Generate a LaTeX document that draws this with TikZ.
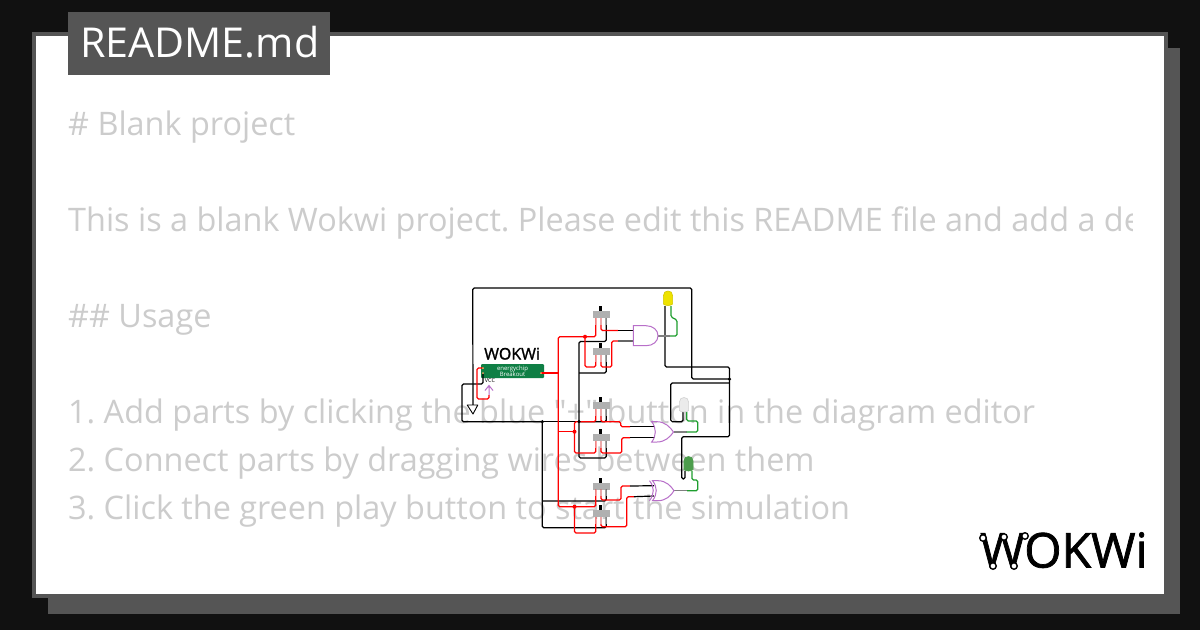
\documentclass[tikz,border=0pt]{standalone}
\usepackage{fontspec}
\setmainfont{Open Sans}
\newfontfamily\plainfont{Open Sans}
\newfontfamily\logofont[FakeBold=1.5]{Open Sans}
\usetikzlibrary{calc}
\definecolor{bgdark}{HTML}{111111}
\definecolor{panelgrey}{HTML}{555555}
\definecolor{bodytext}{HTML}{CCCCCC}
\definecolor{gatepurple}{HTML}{B86FC9}
\definecolor{chipgreen}{HTML}{0F7F45}
\definecolor{wiregreen}{HTML}{1E9E2E}
\definecolor{switchgrey}{HTML}{B0B0B0}
\tikzset{
  mdline/.style={anchor=base west,text=bodytext,font=\plainfont\frenchspacing\fontsize{32.4}{32}\selectfont,inner sep=0pt},
  blackwire/.style={draw=black,line width=1.2pt,rounded corners=1.5pt},
  redwire/.style={draw=red,line width=1.2pt,rounded corners=1.5pt},
  greenwire/.style={draw=wiregreen,line width=1.2pt,rounded corners=1.5pt},
  stub/.style={draw=gray,line width=1.2pt},
  pinstub/.style={draw=white!75!gray,line width=1.2pt,opacity=.6},
  gateline/.style={draw=gatepurple,line width=1pt},
  jdot/.style={circle,fill=black,inner sep=0pt,minimum size=3.5pt},
  rdot/.style={circle,fill=red,inner sep=0pt,minimum size=4pt},
  logotext/.style={anchor=base west,inner sep=0pt,text=black},
  logoring/.style={draw=black,fill=white,line width=1.4pt,circle,inner sep=0pt,minimum size=6.5pt},
}
\newcommand{\slideswitch}[2]{%
  \fill[switchgrey] (592.7,#2) rectangle (610,#2+7);
  \fill[black] (599,#2-5) rectangle (601.7,#2);
  \coordinate (#1l) at (595.7,#2+7);
  \coordinate (#1m) at (601,#2+7);
  \coordinate (#1r) at (606.3,#2+7);
}
\newcommand{\switchstubs}[2]{%
  \draw[pinstub] (595.7,#2+7) -- +(0,6.5);
  \draw[pinstub] (601,#2+7) -- +(0,6.5);
  \draw[pinstub] (606.3,#2+7) -- +(0,6.5);
}
% LED: centre x, top y, fill, edge
\newcommand{\ledbody}[4]{%
  \filldraw[fill=#3,draw=#4,line width=.6pt] (#1-4.6,#2+13) -- (#1-4.6,#2+4.6) .. controls (#1-4.6,#2+1.5) and (#1-2.5,#2) .. (#1,#2) .. controls (#1+2.5,#2) and (#1+4.6,#2+1.5) .. (#1+4.6,#2+4.6) -- (#1+4.6,#2+13) .. controls (#1+3,#2+15) and (#1-3,#2+15) .. (#1-4.6,#2+13) -- cycle;
}
\begin{document}
\begin{tikzpicture}[x=1pt,y=-1pt]
\useasboundingbox (0,0) rectangle (1200,630);
\fill[bgdark] (0,0) rectangle (1200,630);
\fill[panelgrey] (48,48) rectangle (1180,614);
\fill[panelgrey] (32,32) rectangle (1168,598);
\fill[white] (36,36) rectangle (1164,594);
\fill[panelgrey] (68,12) rectangle (330,75);
\node[anchor=base west,inner sep=0pt,text=white,font=\fontsize{41.2}{41}\selectfont] (title) at (80,57) {README.md};
\begin{scope}
\clip (60,80) rectangle (1132,590);
\node[mdline] (l1) at (68,135) {\# Blank project};
\node[mdline] (l2) at (68,231) {This is a blank Wokwi project. Please edit this README file and add a de};
\node[mdline] (l3) at (68,327) {\#\# Usage};
\node[mdline] (l4) at (68,423) {1. Add parts by clicking the blue "+" button in the diagram editor};
\node[mdline] (l5) at (68,471) {2. Connect parts by dragging wires between them};
\node[mdline] (l6) at (68,519) {3. Click the green play button to start the simulation};
\end{scope}

% chip
\node[fill=chipgreen,rounded corners=1pt,minimum width=63pt,minimum height=14pt,inner sep=0pt,text=white,align=center,font=\fontsize{6}{6}\selectfont] (chip) at (512.5,371) {energychip\\Breakout};
\coordinate (chipout) at (541,373);
\coordinate (chipvcc) at (483,368);
\coordinate (chipgnd) at (483,373);
\node[logotext,font=\logofont\fontsize{16}{16}\selectfont] (smalllogo) at (484,359.5) {WOKWi};
\node[inner sep=0pt,font=\fontsize{5.5}{5.5}\selectfont] (vcc) at (490,381) {VCC};
\draw[gatepurple,line width=1pt] (489,395) -- (489,385.5) (485,390.5) -- (489,385.5) -- (493,390.5);

% switches
\slideswitch{sa}{311}
\slideswitch{sb}{348}
\slideswitch{sc}{402}
\slideswitch{sd}{434}
\slideswitch{se}{482.5}
\slideswitch{sf}{510}

% logic gates
\coordinate (ga1) at (633.3,330.5); \coordinate (ga2) at (633.3,341); \coordinate (gaout) at (658,336);
\coordinate (gb1) at (655,426.7);   \coordinate (gb2) at (655,437.7); \coordinate (gbout) at (673.5,432);
\coordinate (gc1) at (654,485.7);   \coordinate (gc2) at (654,496);   \coordinate (gcout) at (674,490.7);
\coordinate (yelA) at (671,306); \coordinate (yelK) at (665,306);
\coordinate (whiA) at (686.7,412); \coordinate (whiK) at (683,412);
\coordinate (grnA) at (692,471); \coordinate (grnK) at (685,471);
\coordinate (j1) at (729.5,379);
\coordinate (j2) at (542.3,421.7);
\coordinate (j3) at (579,421.7);
\coordinate (r1) at (585,336.7);
\coordinate (r2) at (574.5,431.7);
\coordinate (r3) at (574.5,506.7);
\coordinate (gnd) at (473,405);

% black wires
\draw[blackwire] (gnd) -- (472.7,288) -- (691.7,288) -- (691.7,379) -- (j1);
\draw[blackwire] (chipgnd) -- (483,384) -- (462,384) -- (462,421.7) -- (j2);
\draw[blackwire] (j2) -- (j3);
\draw[blackwire] (j3) -- (606.3,421.7) -- (scr);
\draw[blackwire] (j2) -- (542.3,527.7) -- (606.3,527.7) -- (sfr);
\draw[blackwire] (542.3,501) -- (606.3,501) -- (ser);
\draw[blackwire] (sar) -- (606.3,341.5) -- (579,341.5) -- (579,458) -- (606.3,458) -- (sdr);
\draw[blackwire] (579,373) -- (606.3,373) -- (sbr);
\draw[blackwire] (yelK) -- (665,367) -- (729.5,367) -- (729.5,436.7) -- (681.7,436.7) -- (681.7,479) -- (685,479) -- (grnK);
\draw[blackwire] (729.5,383) -- (670.8,383) -- (670.8,421.7) -- (683,421.7) -- (whiK);

% red wires
\draw[redwire] (sal) -- (595.7,336.7) -- (558.3,336.7) -- (558.3,506.7) -- (595.7,506.7) -- (sel);
\draw[redwire] (chipout) -- (558.3,373);
\draw[redwire] (r1) -- (585,367) -- (595.7,367) -- (sbl);
\draw[redwire] (chipvcc) -- (477,368) -- (477,399) -- (489,399) -- (489,395);
\draw[redwire] (sam) -- (601,330.5) -- (618,330.5);
\draw[redwire] (sbm) -- (601,367) -- (611.7,367) -- (611.7,341) -- (618,341);
\draw[redwire] (558.3,431.7) -- (r2);
\draw[redwire] (scl) -- (595.7,421.7) -- (574.5,421.7) -- (574.5,453) -- (595.7,453) -- (sdl);
\draw[redwire] (scm) -- (601,421.7) -- (620.7,421.7) -- (620.7,426.7) -- (630,426.7);
\draw[redwire] (sdm) -- (601,453) -- (621.7,453) -- (621.7,437.7) -- (630,437.7);
\draw[redwire] (r3) -- (574.5,533) -- (595.7,533) -- (sfl);
\draw[redwire] (sem) -- (601,500) -- (621,500) -- (621,486) -- (630,486);
\draw[redwire] (sfm) -- (601,526.7) -- (626.7,526.7) -- (626.7,496.7) -- (634,496.7);
\fill[orange!60!white] (chipout) circle (1pt) (chipvcc) circle (1pt) (chipgnd) circle (1pt);

% gate input wires
\draw[black,line width=1.2pt] (618,330.5) -- (ga1);
\draw[black!60,line width=1.2pt] (618,341) -- (ga2);
\draw[black,line width=1.2pt] (630,426.7) -- (gb1);
\draw[black,line width=1.2pt] (630,437.7) -- (gb2);
\draw[black,line width=1.2pt] (630,486) -- (gc1);
\draw[black,line width=1.2pt] (634,496.7) -- (gc2);

% green wires
\draw[stub] (gaout) -- (670,336);
\draw[greenwire] (670,336) -- (677,336) -- (677,320) -- (671,317) -- (yelA);
\draw[stub] (gbout) -- (686.7,432);
\draw[greenwire] (686.7,432) -- (697.7,432) -- (697.7,421) -- (686.7,421) -- (whiA);
\draw[stub] (gcout) -- (687,490.7);
\draw[greenwire] (687,490.7) -- (697.7,490.7) -- (697.7,480) -- (692,480) -- (grnA);

% pin stubs
\switchstubs{sa}{311}
\switchstubs{sb}{348}
\switchstubs{sc}{402}
\switchstubs{sd}{434}
\switchstubs{se}{482.5}
\switchstubs{sf}{510}

% gate outlines
\draw[gateline] (633.3,325.7) -- (646,325.7) .. controls (653,325.7) and (658,330) .. (658,335.7) .. controls (658,341.5) and (653,345.7) .. (646,345.7) -- (633.3,345.7) -- cycle;
\draw[gateline] (651.7,421.7) -- (657,421.7) .. controls (665,421.7) and (670,427) .. (673.5,432) .. controls (670,437) and (665,442) .. (657,442) -- (651.7,442) .. controls (656.5,436) and (656.5,428) .. (651.7,421.7) -- cycle;
\draw[gateline] (652.5,480.7) -- (658,480.7) .. controls (666,480.7) and (671,486) .. (674,490.7) .. controls (671,495.5) and (666,500.7) .. (658,500.7) -- (652.5,500.7) .. controls (657.5,494) and (657.5,487) .. (652.5,480.7) -- cycle;
\draw[gateline] (649.5,480.7) .. controls (654.5,487) and (654.5,494) .. (649.5,500.7);

% LEDs
\ledbody{668}{291}{yellow!85!olive}{yellow!60!olive}
\ledbody{684}{397.5}{black!8}{black!18}
\ledbody{688.5}{456.5}{green!45!black!70!white}{green!45!black!70!white}

% ground
\draw[black,fill=white,line width=.9pt,line join=round] (467.2,405) -- (477.8,405) -- (473,414) -- cycle;

% junctions
\node[jdot] (dj1) at (j1) {};
\node[jdot] (dj2) at (j2) {};
\node[jdot] (dj3) at (j3) {};
\node[rdot] (dr1) at (r1) {};
\node[rdot] (dr2) at (r2) {};
\node[rdot] (dr3) at (r3) {};

% big logo
\node[logotext,font=\logofont\fontsize{48}{48}\selectfont] (biglogo) at (980,567.5) {WOKWi};
\node[logoring] (w1) at (983,538) {};
\node[logoring] (w2) at (993,566) {};
\node[logoring] (w3) at (1004,537) {};
\node[logoring] (w4) at (1014,566) {};
\node[logoring] (w5) at (1025,536) {};
\end{tikzpicture}
\end{document}
